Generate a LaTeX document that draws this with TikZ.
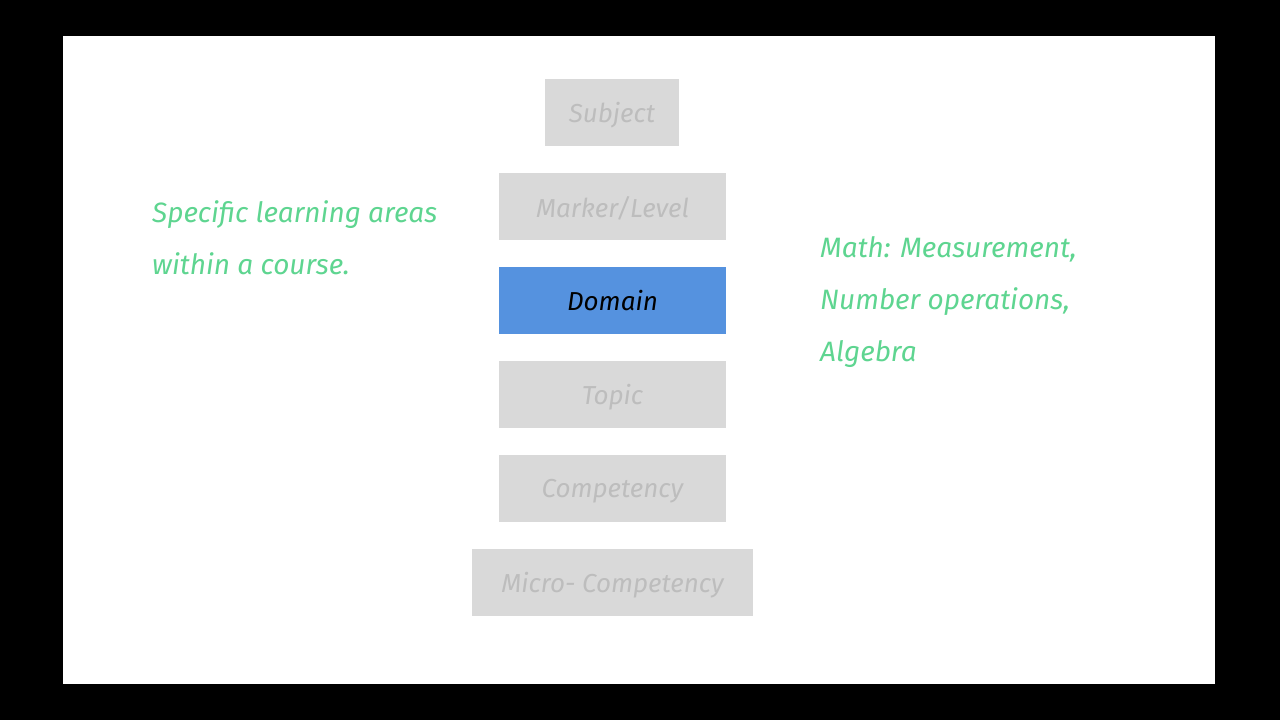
\documentclass[tikz,border=0pt]{standalone}
\usepackage{fontspec}
\setmainfont{Fira Sans}
\definecolor{boxgray}{HTML}{D9D9D9}
\definecolor{txtgray}{HTML}{BDBDBD}
\definecolor{dblue}{HTML}{5592DF}
\definecolor{grn}{HTML}{5ED590}
\begin{document}
\begin{tikzpicture}[x=1pt,y=-1pt,
  lvl/.style={fill=boxgray,minimum height=67pt,inner sep=0pt,text depth=-4pt,font=\itshape\fontsize{26}{30}\selectfont,text=txtgray},
  note/.style={anchor=west,align=left,font=\itshape\fontsize{28}{52}\selectfont,text=grn,inner sep=0pt}]
\fill[black] (0,0) rectangle (1280,720);
\fill[white] (63,36) rectangle (1215,684);
\useasboundingbox (0,0) rectangle (1280,720);
\node[lvl,minimum width=134pt] (subj) at (612,112.5) {Subject};
\node[lvl,minimum width=227pt] (mark) at (612.5,206.5) {Marker/Level};
\node[lvl,minimum width=227pt,fill=dblue,text=black] (dom) at (612.5,300.5) {Domain};
\node[lvl,minimum width=227pt] (top) at (612.5,394.5) {Topic};
\node[lvl,minimum width=227pt] (comp) at (612.5,488.5) {Competency};
\node[lvl,minimum width=281pt] (micro) at (612.5,582.5) {Micro- Competency};
\node[note] (left) at (152,238) {Specific learning areas\\within a course.};
\node[note] (right) at (820,302) {Math: Measurement,\\Number operations,\\Algebra};
\end{tikzpicture}
\end{document}
